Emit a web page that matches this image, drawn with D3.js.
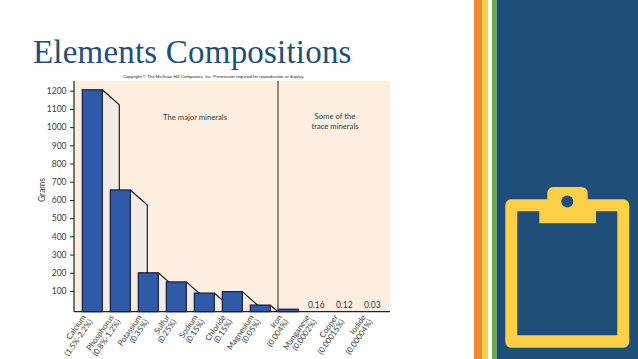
<!DOCTYPE html>
<html>
<head>
<meta charset="utf-8">
<script src="https://cdn.jsdelivr.net/npm/d3@7"></script>
<style>
  html, body { margin: 0; padding: 0; background: #fff; overflow: hidden; }
  svg { display: block; }
  .label { font-family: Lato, sans-serif; fill: #3a3a3a; }
</style>
</head>
<body>
<div class="canvas"></div>
<script>
const minerals = ['Calcium', 'Phosphorus', 'Potassium', 'Sulfur', 'Sodium', 'Chloride', 'Magnesium', 'Iron', 'Manganese', 'Copper', 'Iodide']
const percents = ['(1.5%-2.2%)', '(0.8%-1.2%)', '(0.35%)', '(0.25%)', '(0.15%)', '(0.15%)', '(0.05%)', '(0.004%)', '(0.0002%)', '(0.00015%)', '(0.00004%)']
const grams = [1205, 655, 200, 150, 90, 97, 32, 12, 0.16, 0.12, 0.03]
const yTicks = [100, 200, 300, 400, 500, 600, 700, 800, 900, 1000, 1100, 1200]

const width = 638
const height = 359
const panel = { left: 74, right: 390, top: 81, bottom: 311.7 }
const shadowDx = 17
const shadowDy = 15

const svg = d3
  .select('.canvas')
  .append('svg')
  .attr('width', width)
  .attr('height', height)

// Title and copyright line
svg
  .append('text')
  .attr('x', 33)
  .attr('y', 62.5)
  .attr('font-family', '"Liberation Serif", serif')
  .attr('font-size', 33)
  .attr('letter-spacing', 0.2)
  .attr('fill', '#1f4e79')
  .text('Elements Compositions')

svg
  .append('text')
  .attr('x', 123)
  .attr('y', 77.5)
  .attr('font-family', '"Liberation Sans", sans-serif')
  .attr('font-size', 4.35)
  .attr('fill', '#222')
  .text('Copyright © The McGraw-Hill Companies, Inc. Permission required for reproduction or display.')

// Scales
const x = d3
  .scaleBand()
  .domain(minerals)
  .range([82.3, 382.3])
  .paddingInner(8 / 28)
  .paddingOuter(0)

// the printed axis has a longer step between 0 and 100
const y = d3
  .scaleLinear()
  .domain([0, 100, 1200])
  .range([panel.bottom, 291, 90.7])

// Panel background
svg
  .append('rect')
  .attr('x', panel.left)
  .attr('y', panel.top)
  .attr('width', panel.right - panel.left)
  .attr('height', panel.bottom - panel.top)
  .attr('fill', '#fdeee0')

const majors = minerals.slice(0, 8)
const barData = majors.map(name => ({ name, value: grams[minerals.indexOf(name)] }))
const dividerX = x('Iron') - 0.3

svg
  .append('clipPath')
  .attr('id', 'major-clip')
  .append('rect')
  .attr('x', panel.left)
  .attr('y', panel.top)
  .attr('width', dividerX - panel.left)
  .attr('height', panel.bottom - panel.top)

// Shadows behind the bars, the next bar covers most of each one
const shadows = svg.append('g').attr('clip-path', 'url(#major-clip)')
const shadowData = barData.filter(d => d.name !== 'Iron')

shadows
  .selectAll('path.fill')
  .data(shadowData)
  .enter()
  .append('path')
  .attr('class', 'fill')
  .attr('fill', '#f3ece6')
  .attr('d', d => {
    const r = x(d.name) + x.bandwidth()
    return `M${r},${y(d.value)}L${r + shadowDx},${y(d.value) + shadowDy}L${r + shadowDx},${y(0)}L${r},${y(0)}Z`
  })

shadows
  .selectAll('path.edge')
  .data(shadowData)
  .enter()
  .append('path')
  .attr('class', 'edge')
  .attr('fill', 'none')
  .attr('stroke', '#1c1c24')
  .attr('stroke-width', 1.2)
  .attr('d', d => {
    const r = x(d.name) + x.bandwidth()
    return `M${r},${y(d.value)}L${r + shadowDx},${y(d.value) + shadowDy}L${r + shadowDx},${y(0)}`
  })

// Bars
svg
  .selectAll('rect.bar')
  .data(barData)
  .enter()
  .append('rect')
  .attr('class', 'bar')
  .attr('x', d => x(d.name))
  .attr('y', d => y(d.value))
  .attr('width', x.bandwidth())
  .attr('height', d => y(0) - y(d.value))
  .attr('fill', '#2f5aa8')
  .attr('stroke', '#1c1c34')
  .attr('stroke-width', 1.2)

// Divider between major and trace minerals
svg
  .append('line')
  .attr('x1', dividerX)
  .attr('x2', dividerX)
  .attr('y1', panel.top)
  .attr('y2', panel.bottom)
  .attr('stroke', '#4a4438')
  .attr('stroke-width', 1.2)

// Axes
const yAxis = d3
  .axisLeft(y)
  .tickValues(yTicks)
  .tickFormat(d => d)
  .tickSize(4)
  .tickPadding(3.5)

const yAxisGroup = svg
  .append('g')
  .attr('transform', `translate(${panel.left},0)`)
  .call(yAxis)

yAxisGroup.select('.domain').remove()
yAxisGroup.selectAll('line').attr('stroke', '#222')
yAxisGroup
  .selectAll('text')
  .attr('class', 'label')
  .attr('font-size', 8.5)
  .attr('font-family', null)

svg
  .append('line')
  .attr('x1', panel.left)
  .attr('x2', panel.left)
  .attr('y1', panel.top)
  .attr('y2', panel.bottom)
  .attr('stroke', '#222')
  .attr('stroke-width', 1.2)

const xAxis = d3.axisBottom(x).tickSize(0).tickPadding(0)

const xAxisGroup = svg
  .append('g')
  .attr('transform', `translate(0,${panel.bottom})`)
  .call(xAxis)

xAxisGroup.select('.domain').remove()

xAxisGroup
  .selectAll('text')
  .attr('class', 'label')
  .attr('font-family', null)
  .attr('font-size', 8)
  .attr('text-anchor', 'end')
  .attr('dy', null)
  .attr('y', null)
  .attr('transform', 'translate(-6,5.5) rotate(-55)')
  .each(function(d, i) {
    const t = d3.select(this).text(null)
    t.append('tspan').attr('x', 0).attr('dy', 0).text(d)
    t.append('tspan').attr('x', 0).attr('dy', '1em').text(percents[i])
  })

svg
  .append('line')
  .attr('x1', panel.left)
  .attr('x2', panel.right)
  .attr('y1', panel.bottom)
  .attr('y2', panel.bottom)
  .attr('stroke', '#222')
  .attr('stroke-width', 1.2)

// Trace amounts are too small for bars, so they are printed
svg
  .selectAll('text.trace')
  .data(minerals.slice(8))
  .enter()
  .append('text')
  .attr('class', 'label trace')
  .attr('x', d => x(d) + x.bandwidth() / 2)
  .attr('y', 308)
  .attr('text-anchor', 'middle')
  .attr('font-size', 8.5)
  .text(d => grams[minerals.indexOf(d)])

// Panel notes
const notes = [
  { text: 'The major minerals', x: 195, y: 119.5 },
  { text: 'Some of the', x: 335, y: 119 },
  { text: 'trace minerals', x: 335, y: 129 }
]

svg
  .selectAll('text.note')
  .data(notes)
  .enter()
  .append('text')
  .attr('class', 'label note')
  .attr('x', d => d.x)
  .attr('y', d => d.y)
  .attr('text-anchor', 'middle')
  .attr('font-size', 7.7)
  .text(d => d.text)

svg
  .append('text')
  .attr('class', 'label')
  .attr('transform', 'translate(44.5,190) rotate(-90)')
  .attr('text-anchor', 'middle')
  .attr('font-size', 8.5)
  .text('Grams')

// Right side decoration
const stripes = [
  { x: 474, w: 8.3, c: '#ef8a32' },
  { x: 482.3, w: 6, c: '#fdd047' },
  { x: 488.3, w: 3.7, c: '#ffffff' },
  { x: 492, w: 4.7, c: '#69a84f' },
  { x: 496.7, w: 141.3, c: '#1f4e79' }
]

svg
  .selectAll('rect.stripe')
  .data(stripes)
  .enter()
  .append('rect')
  .attr('class', 'stripe')
  .attr('x', d => d.x)
  .attr('y', 0)
  .attr('width', d => d.w)
  .attr('height', height)
  .attr('fill', d => d.c)

const clipboard = svg.append('g').attr('fill', '#fdd047')

clipboard
  .append('path')
  .attr('fill', '#fdd047')
  .attr('fill-rule', 'evenodd')
  .attr('d', 'M511,199.3H547.3V193a6,6 0 0 1 6,-6H581.7a6,6 0 0 1 6,6V199.3H623.3a6,6 0 0 1 6,6V341.7a6,6 0 0 1 -6,6H511.3a6,6 0 0 1 -6,-6V205.3a6,6 0 0 1 6,-6Z' +
    'M517.3,211.3V335.3H617.3V211.3H596V223.3H539.3V211.3Z')

clipboard
  .append('circle')
  .attr('cx', 567.3)
  .attr('cy', 201.5)
  .attr('r', 6)
  .attr('fill', '#1f4e79')
</script>
</body>
</html>
